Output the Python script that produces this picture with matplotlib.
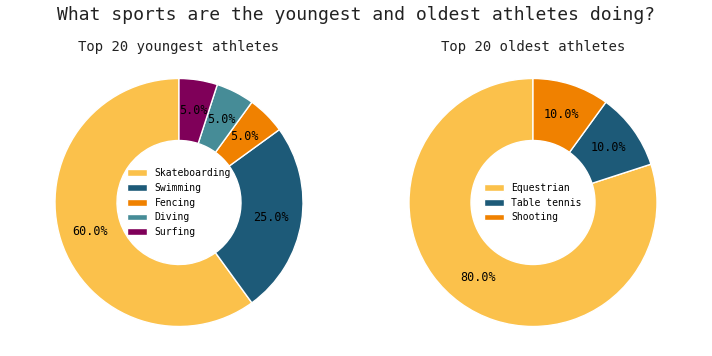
import matplotlib
matplotlib.use("Agg")
import matplotlib.pyplot as plt

plt.rcParams['font.family'] = ['DejaVu Sans Mono']

young_labels = ["Skateboarding", "Swimming", "Fencing", "Diving", "Surfing"]
young_values = [60, 25, 5, 5, 5]
old_labels = ["Equestrian", "Table tennis", "Shooting"]
old_values = [80, 10, 10]

colors_young = ["#FBC14B", "#1D5A78", "#F08100", "#468C97", "#7F0059"]
colors_old = ["#FBC14B", "#1D5A78", "#F08100"]

fig = plt.figure(figsize=(7.12, 3.56), dpi=100)
W, H = 712, 356
r = 124
for cx, vals, labs, cols, title in [
    (179, young_values, young_labels, colors_young, "Top 20 youngest athletes"),
    (533, old_values, old_labels, colors_old, "Top 20 oldest athletes"),
]:
    ax = fig.add_axes([(cx - r) / W, (H - 202.5 - r) / H, 2 * r / W, 2 * r / H])
    wedges, texts, autotexts = ax.pie(
        vals, colors=cols, startangle=90, counterclock=True,
        autopct='%1.1f%%', pctdistance=0.75,
        wedgeprops=dict(width=0.5, edgecolor='white', linewidth=1),
        textprops=dict(fontsize=8.5, color='black'), radius=1)
    ax.set_xlim(-1, 1)
    ax.set_ylim(-1, 1)
    ax.set_aspect('equal')
    ax.legend(wedges, labs, loc='center', frameon=False, fontsize=7,
              handlelength=2.0, labelspacing=0.5)
    fig.text(cx / W, 1 - 46.5 / H, title, ha='center', va='center', fontsize=10, color='#222222')

fig.text(0.5, 1 - 15.5 / H, "What sports are the youngest and oldest athletes doing?",
         ha='center', va='center', fontsize=13, color='#222222')
fig.savefig("out.png", dpi=100, facecolor='white')
